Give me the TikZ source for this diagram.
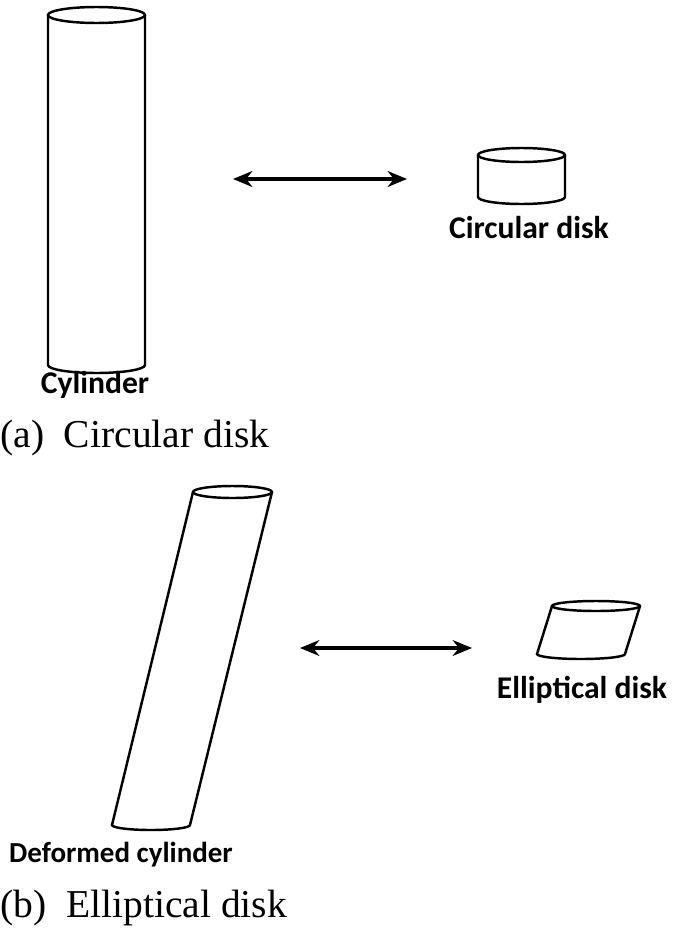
\documentclass[tikz,border=0pt]{standalone}
\usepackage{fontspec}
\setmainfont{Liberation Serif}
\newfontfamily\labelfont{Carlito}
\usetikzlibrary{positioning,arrows.meta}
\begin{document}
\begin{tikzpicture}
                    [x=0.02cm, y=-0.02cm,
                    body/.style={draw, line width=1.4pt},
                    lbl/.style={font=\labelfont\bfseries\fontsize{18}{20}\selectfont},
                    caption/.style={font=\fontsize{22.5}{26}\selectfont, anchor=west, inner sep=0pt},
                    link/.style={{Stealth[length=11pt,width=9pt]}-{Stealth[length=11pt,width=9pt]}, line width=1.8pt}]
                    \useasboundingbox (0,0) rectangle (685,940);

                    % (a) cylinder and circular disk
                    \draw[body] (48,15) -- (48,365) arc[start angle=180, end angle=0, x radius=48.5, y radius=8]
                        -- (145,15);
                    \draw[body] (96.5,15) ellipse[x radius=48.5, y radius=8];
                    \draw[body] (478,155) -- (478,197) arc[start angle=180, end angle=0, x radius=43.5, y radius=7]
                        -- (565,155);
                    \draw[body] (521.5,155) ellipse[x radius=43.5, y radius=7];

                    \coordinate (a1) at (233,179);
                    \coordinate (a2) at (407,179);
                    \draw[link] (a1) -- (a2);

                    \node[lbl] (cyl) at (95,385) {Cylinder};
                    \node[lbl] (cdisk) at (529,228) {Circular disk};
                    \node[caption] (capa) at (0,438) {(a)\enspace Circular disk};

                    % (b) deformed cylinder and elliptical disk
                    \draw[body] (193,492) -- (112,825) arc[start angle=180, end angle=0, x radius=39, y radius=5]
                        -- (272,492);
                    \draw[body] (232.5,492) ellipse[x radius=39.5, y radius=6];
                    \draw[body] (552,606) -- (537,654) arc[start angle=180, end angle=0, x radius=44, y radius=5]
                        -- (640,606);
                    \draw[body] (596,606) ellipse[x radius=44, y radius=5];

                    \coordinate (b1) at (300,648);
                    \coordinate (b2) at (472,648);
                    \draw[link] (b1) -- (b2);

                    \node[lbl, font=\labelfont\bfseries\fontsize{16.5}{18}\selectfont] (dcyl) at (121,855) {Deformed cylinder};
                    \node[lbl] (edisk) at (582,690) {Elliptical disk};
                    \node[caption] (capb) at (0,908) {(b)\enspace Elliptical disk};
\end{tikzpicture}
\end{document}
